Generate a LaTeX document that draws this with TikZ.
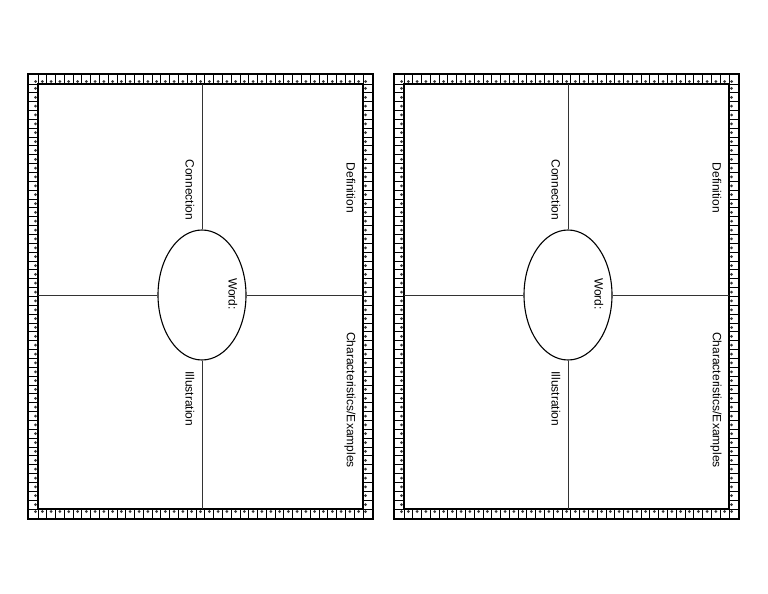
\documentclass[tikz,border=0pt]{standalone}
\usepackage{fontspec}
\setmainfont{Liberation Sans}
\usetikzlibrary{shapes.geometric}
\tikzset{
  bandline/.style={line width=1.4pt,black},
  divline/.style={line width=1pt,black},
  crossline/.style={line width=0.9pt,black!80},
  celldot/.style={fill=black!80,draw=none},
  wordoval/.style={ellipse,draw,line width=1.1pt,minimum width=88pt,minimum height=130pt,inner sep=0pt},
  lbl/.style={rotate=-90,inner sep=0pt,font=\fontsize{12}{14}\selectfont,text=black}
}
\newcommand{\organizerpanel}[2]{%
\begin{scope}[shift={(#1,0)}]
  % band
  \draw[bandline] (28,74) rectangle (373,519);
  \draw[bandline] (38,84) rectangle (363,509);
  % corner cells
  \draw[divline] (38,74) -- (38,84) -- (28,84);
  \draw[divline] (363,74) -- (363,84) -- (373,84);
  \draw[divline] (38,519) -- (38,509) -- (28,509);
  \draw[divline] (363,519) -- (363,509) -- (373,509);
  \fill[celldot] (35.5,81.5) circle (1.5);
  \fill[celldot] (365.5,81.5) circle (1.5);
  \fill[celldot] (35.5,511.5) circle (1.5);
  \fill[celldot] (365.5,511.5) circle (1.5);
  % top and bottom cells
  \foreach \i in {1,...,36}{
    \draw[divline] ({38+\i*(325/37)},74) -- ({38+\i*(325/37)},84);
    \draw[divline] ({38+\i*(325/37)},509) -- ({38+\i*(325/37)},519);
  }
  \foreach \i in {0,...,36}{
    \fill[celldot] ({38+(\i+0.5)*(325/37)},81.5) circle (1.5);
    \fill[celldot] ({38+(\i+0.5)*(325/37)},511.5) circle (1.5);
  }
  % left and right cells
  \foreach \i in {1,...,47}{
    \draw[divline] (28,{84+\i*(425/48)}) -- (38,{84+\i*(425/48)});
    \draw[divline] (363,{84+\i*(425/48)}) -- (373,{84+\i*(425/48)});
  }
  \foreach \i in {0,...,47}{
    \fill[celldot] (35.5,{84+(\i+0.5)*(425/48)}) circle (1.5);
    \fill[celldot] (365.5,{84+(\i+0.5)*(425/48)}) circle (1.5);
  }
  % centre
  \node[wordoval] (oval#2) at (202,295) {};
  \coordinate (top#2) at (202,84);
  \coordinate (bot#2) at (202,509);
  \coordinate (lft#2) at (38,295);
  \coordinate (rgt#2) at (363,295);
  \draw[crossline] (oval#2.north) -- (top#2);
  \draw[crossline] (oval#2.south) -- (bot#2);
  \draw[crossline] (oval#2.west) -- (lft#2);
  \draw[crossline] (oval#2.east) -- (rgt#2);
  \node[lbl] (word#2) at (233,294) {Word:};
  \node[lbl] (conn#2) at (190,190) {Connection};
  \node[lbl] (defn#2) at (351,188) {Definition};
  \node[lbl] (illu#2) at (190,399) {Illustration};
  \node[lbl] (char#2) at (350,400) {Characteristics/Examples};
\end{scope}}
\begin{document}
\begin{tikzpicture}[x=1pt,y=-1pt]
  \useasboundingbox (0,0) rectangle (768,594);
  \fill[white] (0,0) rectangle (768,594);
  \organizerpanel{0}{A}
  \organizerpanel{366}{B}
\end{tikzpicture}
\end{document}
